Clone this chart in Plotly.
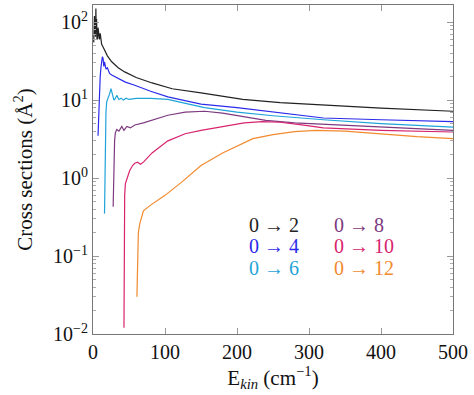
import plotly.graph_objects as go

# ---- data ----
e_02 = [1, 2, 2.5, 3, 3.5, 4, 4.5, 5, 5.5, 6, 6.5, 7, 8, 9, 10, 11, 12, 14, 17, 20, 26, 35, 44, 60, 82, 110, 150, 208, 260, 320, 400, 500]
s_02 = [55, 120, 70, 95, 65, 150, 75, 110, 60, 95, 62, 85, 70, 60, 72, 55, 52, 48, 42, 37, 31, 26, 23, 19.5, 16.6, 14, 12.4, 10.2, 9.3, 8.6, 7.9, 7.2]

e_04 = [7, 8, 9, 10, 11, 12, 13, 14, 15, 16, 17, 18, 20, 23, 26, 30, 35, 45, 58, 80, 104, 150, 200, 250, 320, 400, 500]
s_04 = [3.5, 8, 14, 20, 26, 31, 36, 34, 27, 31, 27, 25, 26, 22, 21, 20, 19, 17, 15.5, 13, 11, 8.9, 8.0, 7.1, 5.9, 5.6, 5.3]

e_06 = [16, 16.5, 17, 18, 19, 21, 23, 25, 27, 29, 31, 33, 36, 39, 42, 46, 50, 60, 80, 104, 130, 155, 200, 250, 320, 400, 500]
s_06 = [0.35, 1.2, 3, 7, 9.5, 10.5, 12, 14, 11.5, 10, 10.5, 11.5, 10.2, 10.6, 10, 10.6, 10.2, 10.5, 10.5, 10.2, 9, 8, 7.0, 6.3, 5.6, 5.0, 4.5]

e_08 = [28, 28.5, 29, 30, 31, 33, 36, 38, 40, 43, 47, 52, 58, 70, 82, 104, 128, 155, 180, 210, 240, 280, 320, 400, 500]
s_08 = [0.43, 0.9, 1.6, 3.0, 3.8, 4.2, 4.0, 4.4, 4.6, 4.1, 4.6, 4.4, 4.8, 5.1, 5.5, 6.4, 7.0, 7.2, 6.8, 6.1, 5.5, 5.1, 4.9, 4.5, 4.1]

e_010 = [43, 43.3, 43.6, 44, 45, 47, 51, 55, 58, 62, 66, 70, 82, 104, 128, 150, 180, 210, 235, 260, 290, 320, 400, 500]
s_010 = [0.012, 0.06, 0.3, 0.6, 0.85, 0.95, 1.25, 1.45, 1.55, 1.6, 1.5, 1.6, 2.1, 3.0, 3.7, 4.1, 4.6, 5.1, 5.3, 5.2, 4.8, 4.4, 4.1, 3.9]

e_012 = [61, 61.5, 62, 63, 65, 70, 80, 90, 100, 124, 150, 180, 222, 250, 280, 310, 350, 400, 450, 500]
s_012 = [0.03, 0.08, 0.13, 0.2, 0.26, 0.38, 0.45, 0.52, 0.6, 0.9, 1.45, 2.1, 3.2, 3.6, 3.95, 4.1, 4.0, 3.7, 3.4, 3.2]

labels = ["0 → 2", "0 → 4", "0 → 6", "0 → 8", "0 → 10", "0 → 12"]
colors = ["#222222", "#2b2bea", "#1fa3d9", "#7d3a80", "#d8246e", "#f28a2e"]

x_ticks = [0, 100, 200, 300, 400, 500]
y_ticks = [0.01, 0.1, 1, 10, 100]
y_tick_text = ["10<sup>−2</sup>", "10<sup>−1</sup>", "10<sup>0</sup>", "10<sup>1</sup>", "10<sup>2</sup>"]

series = [(e_02, s_02), (e_04, s_04), (e_06, s_06), (e_08, s_08), (e_010, s_010), (e_012, s_012)]

fig = go.Figure()
for (ex, sy), lab, col in zip(series, labels, colors):
    fig.add_trace(go.Scatter(x=ex, y=sy, mode="lines", name=lab,
                             line=dict(color=col, width=1.2), showlegend=False))

FONT = "Liberation Serif, DejaVu Serif, Noto Serif, Times New Roman, serif"
# legend as text annotations (two columns)
leg_pos = [(0.428, 0.331), (0.428, 0.266), (0.428, 0.201),
           (0.664, 0.331), (0.664, 0.266), (0.664, 0.201)]
for lab, col, (px, py) in zip(labels, colors, leg_pos):
    fig.add_annotation(x=px, y=py, xref="paper", yref="paper", text=lab,
                       showarrow=False, xanchor="left", yanchor="middle",
                       font=dict(family=FONT, size=20, color=col))

axis_common = dict(showline=True, linecolor="#777777", linewidth=1.2, mirror="allticks",
                   ticks="inside", ticklen=6, tickcolor="#999999", showgrid=False,
                   zeroline=False, tickfont=dict(family=FONT, size=20, color="#111"))

fig.update_xaxes(range=[0, 500], tickvals=x_ticks, ticktext=[str(v) for v in x_ticks],
                 title=dict(text="E<sub><i>kin</i></sub> (cm<sup>−1</sup>)",
                            font=dict(family=FONT, size=21, color="#111"), standoff=6),
                 **axis_common)
fig.update_yaxes(type="log", range=[-2, 2.22], tickvals=y_ticks, ticktext=y_tick_text,
                 minor=dict(ticks="inside", ticklen=3, tickcolor="#aaaaaa", dtick="D1"),
                 title=dict(text="Cross sections (Å<sup>2</sup>)",
                            font=dict(family=FONT, size=21, color="#111"), standoff=14),
                 **axis_common)

fig.update_layout(width=474, height=395, margin=dict(l=93, r=21, t=5, b=61),
                  plot_bgcolor="white", paper_bgcolor="white")

fig.write_html("out.html", config={"displayModeBar": False},
               post_script="document.body.style.margin='0';")
